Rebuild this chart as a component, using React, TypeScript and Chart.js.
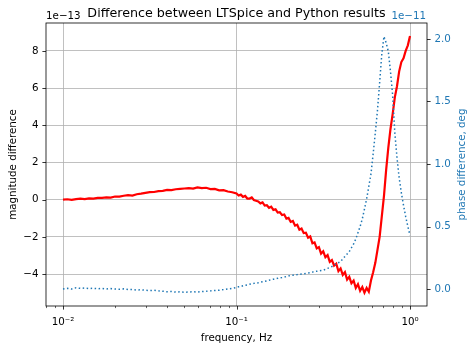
import React, { useEffect, useRef } from "react";
import { Chart, registerables } from "chart.js";

Chart.register(...registerables);

// frequency, Hz
const frequencies = [
  0.01, 0.01059, 0.01122, 0.01189, 0.01259, 0.01334, 0.01413, 0.01496, 0.01585, 0.01679,
  0.01778, 0.01884, 0.01995, 0.02113, 0.02239, 0.02371, 0.02512, 0.02661, 0.02818, 0.02985,
  0.03162, 0.0335, 0.03548, 0.03758, 0.03981, 0.04217, 0.04467, 0.04732, 0.05012, 0.05309,
  0.05623, 0.05957, 0.0631, 0.06683, 0.07079, 0.07499, 0.07943, 0.08414, 0.08913, 0.09441,
  0.1, 0.1029, 0.1059, 0.109, 0.1122, 0.1155, 0.1189, 0.1224, 0.1259, 0.1296,
  0.1334, 0.1373, 0.1413, 0.1454, 0.1496, 0.154, 0.1585, 0.1631, 0.1679, 0.1728,
  0.1778, 0.183, 0.1884, 0.1939, 0.1995, 0.2053, 0.2113, 0.2175, 0.2239, 0.2304,
  0.2371, 0.244, 0.2512, 0.2585, 0.2661, 0.2739, 0.2818, 0.29, 0.2985, 0.3072,
  0.3162, 0.3254, 0.335, 0.3448, 0.3548, 0.3652, 0.3758, 0.3868, 0.3981, 0.4097,
  0.4217, 0.434, 0.4467, 0.4597, 0.4732, 0.487, 0.5012, 0.5158, 0.5309, 0.5464,
  0.5623, 0.5787, 0.5957, 0.6131, 0.631, 0.6494, 0.6683, 0.6878, 0.7079, 0.7286,
  0.7499, 0.7718, 0.7943, 0.8175, 0.8414, 0.866, 0.8913, 0.9173, 0.9441, 0.9717,
  1.0,
];

// magnitude difference, in units of 1e-13
const magnitudeDiff = [
  0.0, 0.02, -0.01, 0.03, 0.05, 0.03, 0.07, 0.06, 0.09, 0.1,
  0.12, 0.11, 0.17, 0.16, 0.21, 0.24, 0.22, 0.29, 0.32, 0.36,
  0.4, 0.41, 0.46, 0.47, 0.52, 0.51, 0.56, 0.58, 0.6, 0.62,
  0.59, 0.66, 0.62, 0.64, 0.57, 0.58, 0.5, 0.51, 0.44, 0.4,
  0.33, 0.22, 0.27, 0.15, 0.2, 0.06, 0.06, 0.12, -0.02, -0.06,
  -0.1, -0.2, -0.15, -0.32, -0.3, -0.44, -0.38, -0.55, -0.52, -0.7,
  -0.68, -0.83, -0.8, -1.02, -0.98, -1.2, -1.15, -1.4, -1.35, -1.62,
  -1.55, -1.8, -1.78, -2.05, -1.98, -2.35, -2.3, -2.62, -2.55, -2.9,
  -2.78, -3.1, -2.98, -3.35, -3.25, -3.55, -3.45, -3.85, -3.7, -4.05,
  -3.9, -4.3, -4.15, -4.5, -4.35, -4.75, -4.55, -4.9, -4.7, -5.0,
  -4.75, -4.95, -4.35, -3.9, -3.4, -2.7, -2.0, -0.9, 0.2, 1.6,
  2.8, 3.8, 4.6, 5.5, 6.1, 6.9, 7.4, 7.6, 8.0, 8.3,
  8.8,
];

// phase difference, deg, in units of 1e-11
const phaseDiff = [
  0.0, 0.005, 0.0, 0.01, 0.005, 0.008, 0.004, 0.006, 0.002, 0.005,
  0.0, 0.003, 0.0, -0.002, 0.001, -0.005, -0.004, -0.008, -0.006, -0.01,
  -0.012, -0.01, -0.015, -0.018, -0.022, -0.02, -0.025, -0.022, -0.026, -0.024,
  -0.022, -0.025, -0.02, -0.018, -0.015, -0.012, -0.01, -0.005, 0.0, 0.005,
  0.012, 0.018, 0.02, 0.026, 0.03, 0.033, 0.038, 0.04, 0.045, 0.046,
  0.05, 0.055, 0.058, 0.061, 0.065, 0.07, 0.075, 0.078, 0.082, 0.086,
  0.09, 0.092, 0.095, 0.1, 0.105, 0.106, 0.11, 0.113, 0.115, 0.118,
  0.12, 0.122, 0.125, 0.128, 0.13, 0.135, 0.14, 0.142, 0.145, 0.148,
  0.15, 0.158, 0.165, 0.172, 0.18, 0.19, 0.2, 0.21, 0.22, 0.24,
  0.26, 0.28, 0.3, 0.33, 0.36, 0.4, 0.45, 0.5, 0.56, 0.64,
  0.72, 0.82, 0.92, 1.08, 1.25, 1.43, 1.65, 1.88, 2.02, 1.97,
  1.9, 1.74, 1.55, 1.25, 1.05, 0.89, 0.77, 0.67, 0.58, 0.5,
  0.43,
];

const xMajorTicks = [0.01, 0.1, 1];
const xTickLabels = ["10\u207B\u00B2", "10\u207B\u00B9", "10\u2070"];
const xMinorTicks = [
  0.008, 0.009,
  0.02, 0.03, 0.04, 0.05, 0.06, 0.07, 0.08, 0.09,
  0.2, 0.3, 0.4, 0.5, 0.6, 0.7, 0.8, 0.9,
];
const magTicks = [-4, -2, 0, 2, 4, 6, 8];
const phaseTicks = [0, 0.5, 1, 1.5, 2];

const TITLE = "Difference between LTSpice and Python results";
const X_LABEL = "frequency, Hz";
const Y_LABEL = "magnitude difference";
const Y2_LABEL = "phase difference, deg";
const Y_OFFSET = "1e\u221213";
const Y2_OFFSET = "1e\u221211";

const BLUE = "#1f77b4";
const FONT = "'DejaVu Sans', sans-serif";

const decorPlugin = {
  id: "decor",
  afterDraw(chart: any) {
    const { ctx, chartArea: a, scales } = chart;
    ctx.save();
    // frame
    ctx.strokeStyle = "#000";
    ctx.lineWidth = 0.8;
    ctx.strokeRect(a.left, a.top, a.right - a.left, a.bottom - a.top);
    // x ticks
    const x = scales.x;
    ctx.beginPath();
    xMajorTicks.forEach((v) => {
      const p = Math.round(x.getPixelForValue(v)) + 0.5;
      ctx.moveTo(p, a.bottom);
      ctx.lineTo(p, a.bottom + 3.6);
    });
    ctx.stroke();
    ctx.lineWidth = 0.6;
    ctx.beginPath();
    xMinorTicks.forEach((v) => {
      const p = Math.round(x.getPixelForValue(v)) + 0.5;
      if (p < a.left - 0.5 || p > a.right + 1) return;
      ctx.moveTo(p, a.bottom);
      ctx.lineTo(p, a.bottom + 2.1);
    });
    ctx.stroke();
    // y ticks
    ctx.lineWidth = 0.8;
    ctx.beginPath();
    magTicks.forEach((v) => {
      const p = Math.round(scales.y.getPixelForValue(v)) + 0.5;
      ctx.moveTo(a.left, p);
      ctx.lineTo(a.left - 3.6, p);
    });
    phaseTicks.forEach((v) => {
      const p = Math.round(scales.y1.getPixelForValue(v)) + 0.5;
      ctx.moveTo(a.right, p);
      ctx.lineTo(a.right + 3.6, p);
    });
    ctx.stroke();

    // title
    ctx.fillStyle = "#000";
    ctx.font = `12.7px ${FONT}`;
    ctx.textAlign = "center";
    ctx.textBaseline = "alphabetic";
    ctx.fillText(TITLE, (a.left + a.right) / 2, 16.5);

    // offset texts
    ctx.font = `10.3px ${FONT}`;
    ctx.textAlign = "left";
    ctx.fillText(Y_OFFSET, a.left, 19.3);
    ctx.fillStyle = BLUE;
    ctx.textAlign = "right";
    ctx.fillText(Y2_OFFSET, a.right - 1, 19.3);

    // axis labels
    ctx.fillStyle = "#000";
    ctx.textAlign = "center";
    ctx.fillText(X_LABEL, (a.left + a.right) / 2, 341);

    const midY = (a.top + a.bottom) / 2;
    ctx.save();
    ctx.translate(16, midY);
    ctx.rotate(-Math.PI / 2);
    ctx.fillText(Y_LABEL, 0, 0);
    ctx.restore();

    ctx.save();
    ctx.fillStyle = BLUE;
    ctx.translate(465, midY);
    ctx.rotate(-Math.PI / 2);
    ctx.fillText(Y2_LABEL, 0, 0);
    ctx.restore();

    ctx.restore();
  },
};

export default function App() {
  const canvasRef = useRef<HTMLCanvasElement | null>(null);

  useEffect(() => {
    const canvas = canvasRef.current;
    if (!canvas) return;
    const tickFont = { family: FONT, size: 10.3 };
    const chart = new Chart(canvas, {
      type: "line",
      data: {
        datasets: [
          {
            label: "phase",
            data: frequencies.map((f, i) => ({ x: f, y: phaseDiff[i] })),
            yAxisID: "y1",
            borderColor: BLUE,
            borderWidth: 1.5,
            borderDash: [1.5, 2.5],
            borderCapStyle: "butt",
            pointRadius: 0,
            fill: false,
            tension: 0,
          },
          {
            label: "magnitude",
            data: frequencies.map((f, i) => ({ x: f, y: magnitudeDiff[i] })),
            yAxisID: "y",
            borderColor: "#ff0000",
            borderWidth: 2.2,
            pointRadius: 0,
            fill: false,
            tension: 0,
          },
        ],
      },
      options: {
        animation: false,
        responsive: false,
        maintainAspectRatio: false,
        events: [],
        layout: { padding: { top: 23, left: 0, right: 0, bottom: 0 } },
        plugins: {
          legend: { display: false },
          tooltip: { enabled: false },
          title: { display: false },
        },
        scales: {
          x: {
            type: "logarithmic",
            position: "bottom",
            min: 0.00798,
            max: 1.253,
            afterBuildTicks: (s: any) => {
              s.ticks = xMajorTicks.map((v) => ({ value: v }));
            },
            afterFit: (s: any) => {
              s.height = 45;
            },
            border: { display: false },
            grid: {
              color: "#b0b0b0",
              lineWidth: 0.8,
              drawTicks: false,
            },
            ticks: {
              autoSkip: false,
              maxRotation: 0,
              padding: 10,
              color: "#000",
              font: tickFont,
              callback: (v: any) => {
                const i = xMajorTicks.indexOf(Number(v));
                return i >= 0 ? xTickLabels[i] : "";
              },
            },
          },
          y: {
            type: "linear",
            position: "left",
            min: -5.72,
            max: 9.5,
            afterBuildTicks: (s: any) => {
              s.ticks = magTicks.map((v) => ({ value: v }));
            },
            afterFit: (s: any) => {
              s.width = 46;
            },
            border: { display: false },
            grid: { color: "#b0b0b0", lineWidth: 0.8, drawTicks: false },
            ticks: {
              padding: 7.5,
              color: "#000",
              font: tickFont,
              callback: (v: any) => {
                const n = Number(v);
                return n < 0 ? "\u2212" + String(-n) : String(n);
              },
            },
          },
          y1: {
            type: "linear",
            position: "right",
            min: -0.136,
            max: 2.128,
            afterBuildTicks: (s: any) => {
              s.ticks = phaseTicks.map((v) => ({ value: v }));
            },
            afterFit: (s: any) => {
              s.width = 47;
            },
            border: { display: false },
            grid: { drawOnChartArea: false, drawTicks: false },
            ticks: {
              padding: 7.5,
              color: BLUE,
              font: tickFont,
              callback: (v: any) => Number(v).toFixed(1),
            },
          },
        },
      },
      plugins: [decorPlugin],
    } as any);
    return () => chart.destroy();
  }, []);

  return (
    <div style={{ position: "fixed", left: 0, top: 0, width: 474, height: 351, background: "#fff" }}>
      <canvas ref={canvasRef} width={474} height={351} />
    </div>
  );
}
